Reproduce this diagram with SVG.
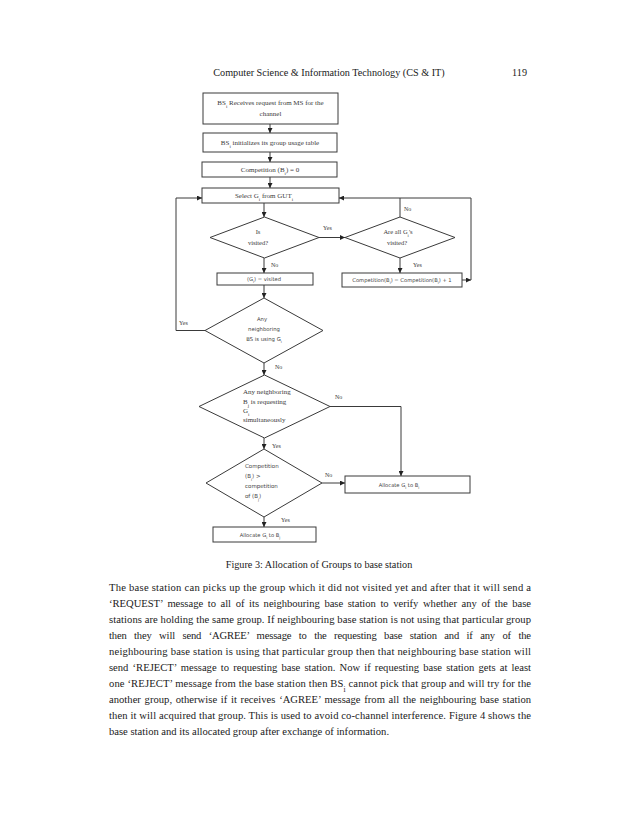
<svg xmlns="http://www.w3.org/2000/svg" width="638" height="826" viewBox="0 0 638 826">
<style>
.bg{fill:#fff}
.box{fill:#fff;stroke:#3a3a3a;stroke-width:1}
.con{fill:none;stroke:#3a3a3a;stroke-width:1}
.t{font-family:"Liberation Serif",serif;fill:#3a3a3a}
.s{font-family:"DejaVu Sans",sans-serif;fill:#444}
.lbl{font-family:"Liberation Serif",serif;fill:#3a3a3a;font-size:6px}
.page{font-family:"Liberation Serif",serif;fill:#1a1a1a;font-size:10.2px}
.para{font-family:"Liberation Serif",serif;fill:#1a1a1a;font-size:10.6px}
.sub{font-size:70%}
</style>
<defs>
<marker id="ah" markerWidth="5" markerHeight="5" refX="5" refY="2.5" orient="auto" markerUnits="userSpaceOnUse">
<path d="M0,0 L5,2.5 L0,5 z" fill="#222"/>
</marker>
</defs>
<rect class="bg" width="638" height="826"/>

<g id="header">
<text class="page" x="329" y="76" text-anchor="middle">Computer Science &amp; Information Technology (CS &amp; IT)</text>
<text class="page" x="527" y="76" text-anchor="end">119</text>
</g>

<g id="n1"><rect class="box" x="203" y="93" width="135" height="31"/>
<text class="t" font-size="7" text-anchor="middle"><tspan x="270.5" y="105">BS<tspan class="sub" baseline-shift="sub">i</tspan> Receives request from MS for the</tspan><tspan x="270.5" y="116">channel</tspan></text></g>
<g id="n2"><rect class="box" x="203" y="133" width="134" height="19"/>
<text class="t" font-size="7" x="270" y="145" text-anchor="middle">BS<tspan class="sub" baseline-shift="sub">i</tspan> initializes its group usage table</text></g>
<g id="n3"><rect class="box" x="202" y="162" width="135" height="15"/>
<text class="t" font-size="7" x="270" y="172" text-anchor="middle">Competition (B<tspan class="sub" baseline-shift="sub">i</tspan>) = 0</text></g>
<g id="n4"><rect class="box" x="202" y="188" width="137" height="15"/>
<text class="t" font-size="7" x="264" y="198" text-anchor="middle">Select G<tspan class="sub" baseline-shift="sub">i</tspan> from GUT<tspan class="sub" baseline-shift="sub">i</tspan></text></g>

<g id="d1"><polygon class="box" points="264.5,217 319,237.5 264.5,258 210,237.5"/>
<text class="t" font-size="6.5" text-anchor="middle"><tspan x="258" y="234">Is</tspan><tspan x="258" y="245">visited?</tspan></text></g>
<g id="d2"><polygon class="box" points="400,217 455,237.5 400,258 345,237.5"/>
<text class="t" font-size="6.5" text-anchor="middle"><tspan x="398" y="234">Are all G<tspan class="sub" baseline-shift="sub">i</tspan>'s</tspan><tspan x="397" y="245">visited?</tspan></text></g>

<g id="n5"><rect class="box" x="217" y="273" width="96" height="12"/>
<text class="s" font-size="5.2" x="264" y="281" text-anchor="middle">(G<tspan class="sub" baseline-shift="sub">i</tspan>) = visited</text></g>
<g id="n6"><rect class="box" x="342" y="273" width="120" height="14"/>
<text class="s" font-size="5.2" x="402" y="282" text-anchor="middle">Competition(B<tspan class="sub" baseline-shift="sub">i</tspan>) = Competition(B<tspan class="sub" baseline-shift="sub">i</tspan>) + 1</text></g>

<g id="d3"><polygon class="box" points="264,298 323,330.5 264,363 205,330.5"/>
<text class="s" font-size="5.3" text-anchor="middle"><tspan x="262" y="321">Any</tspan><tspan x="264" y="331">neighboring</tspan><tspan x="264" y="341">BS is using G<tspan class="sub" baseline-shift="sub">i</tspan></tspan></text></g>

<g id="d4"><polygon class="box" points="264.5,375 330,406.5 264.5,438 199,406.5"/>
<text class="t" font-size="7"><tspan x="243" y="394">Any neighboring</tspan><tspan x="243" y="404">B<tspan class="sub" baseline-shift="sub">j</tspan> is requesting</tspan><tspan x="243" y="412.5">G<tspan class="sub" baseline-shift="sub">i</tspan></tspan><tspan x="243" y="421.5">simultaneously</tspan></text></g>

<g id="d5"><polygon class="box" points="264,449 322,483 264,517 206,483"/>
<text class="s" font-size="5.5"><tspan x="245" y="468">Competition</tspan><tspan x="245" y="478">(B<tspan class="sub" baseline-shift="sub">i</tspan>) &gt;</tspan><tspan x="245" y="488">competition</tspan><tspan x="245" y="498">of (B<tspan class="sub" baseline-shift="sub">j</tspan>)</tspan></text></g>

<g id="n7"><rect class="box" x="213" y="527" width="103" height="15"/>
<text class="s" font-size="5.2" x="260" y="536.5" text-anchor="middle">Allocate G<tspan class="sub" baseline-shift="sub">i</tspan> to B<tspan class="sub" baseline-shift="sub">j</tspan></text></g>
<g id="n8"><rect class="box" x="345" y="476" width="125" height="17"/>
<text class="s" font-size="5.2" x="399" y="486.5" text-anchor="middle">Allocate  G<tspan class="sub" baseline-shift="sub">i</tspan> to B<tspan class="sub" baseline-shift="sub">i</tspan></text></g>

<g id="connectors">
<path class="con" d="M270,124 V133" marker-end="url(#ah)"/>
<path class="con" d="M270,152 V162" marker-end="url(#ah)"/>
<path class="con" d="M270,177 V188" marker-end="url(#ah)"/>
<path class="con" d="M264,203 V217" marker-end="url(#ah)"/>
<path class="con" d="M319,237.5 H345" marker-end="url(#ah)"/>
<path class="con" d="M400,217 V198"/>
<path class="con" d="M462,280 H471" marker-end="url(#ah)"/>
<path class="con" d="M471,280 V198 H339" marker-end="url(#ah)"/>
<path class="con" d="M264,258 V273" marker-end="url(#ah)"/>
<path class="con" d="M400,258 V273" marker-end="url(#ah)"/>
<path class="con" d="M264,285 V298" marker-end="url(#ah)"/>
<path class="con" d="M205,330.5 H176 V198 H202" marker-end="url(#ah)"/>
<path class="con" d="M264,363 V375" marker-end="url(#ah)"/>
<path class="con" d="M330,406.5 H401 V476" marker-end="url(#ah)"/>
<path class="con" d="M264,438 V449" marker-end="url(#ah)"/>
<path class="con" d="M322,483 H345" marker-end="url(#ah)"/>
<path class="con" d="M264,517 V527" marker-end="url(#ah)"/>
<text class="lbl" x="323" y="229.5">Yes</text>
<text class="lbl" x="404" y="211">No</text>
<text class="lbl" x="271" y="267">No</text>
<text class="lbl" x="413" y="267">Yes</text>
<text class="lbl" x="179" y="325">Yes</text>
<text class="lbl" x="275" y="369">No</text>
<text class="lbl" x="335" y="399">No</text>
<text class="lbl" x="272" y="448">Yes</text>
<text class="lbl" x="325" y="477">No</text>
<text class="lbl" x="281" y="522">Yes</text>
</g>

<g id="caption">
<text class="page" x="319" y="568" text-anchor="middle">Figure 3: Allocation of Groups to base station</text>
</g>

<g id="paragraph" class="para">
<text x="109" y="591" textLength="422" lengthAdjust="spacing">The base station can picks up the group which it did not visited yet and after that it will send a</text>
<text x="109" y="607" textLength="422" lengthAdjust="spacing" word-spacing="2">‘REQUEST’ message to all of its neighbouring base station to verify whether any of the base</text>
<text x="109" y="623" textLength="422" lengthAdjust="spacing">stations are holding the same group. If neighbouring base station is not using that particular group</text>
<text x="109" y="639" textLength="422" lengthAdjust="spacing" word-spacing="5">then they will send ‘AGREE’ message to the requesting base station and if any of the</text>
<text x="109" y="655" textLength="422" lengthAdjust="spacing">neighbouring base station is using that particular group then that neighbouring base station will</text>
<text x="109" y="671" textLength="422" lengthAdjust="spacing" word-spacing="1.5">send ‘REJECT’ message to requesting base station. Now if requesting base station gets at least</text>
<text x="109" y="687" textLength="422" lengthAdjust="spacing">one ‘REJECT’ message from the base station then BS<tspan class="sub" baseline-shift="sub">i</tspan> cannot pick that group and will try for the</text>
<text x="109" y="703" textLength="422" lengthAdjust="spacing" word-spacing="1">another group, otherwise if it receives ‘AGREE’ message from all the neighbouring base station</text>
<text x="109" y="719" textLength="422" lengthAdjust="spacing">then it will acquired that group. This is used to avoid co-channel interference. Figure 4 shows the</text>
<text x="109" y="735">base station and its allocated group after exchange of information.</text>
</g>
</svg>
